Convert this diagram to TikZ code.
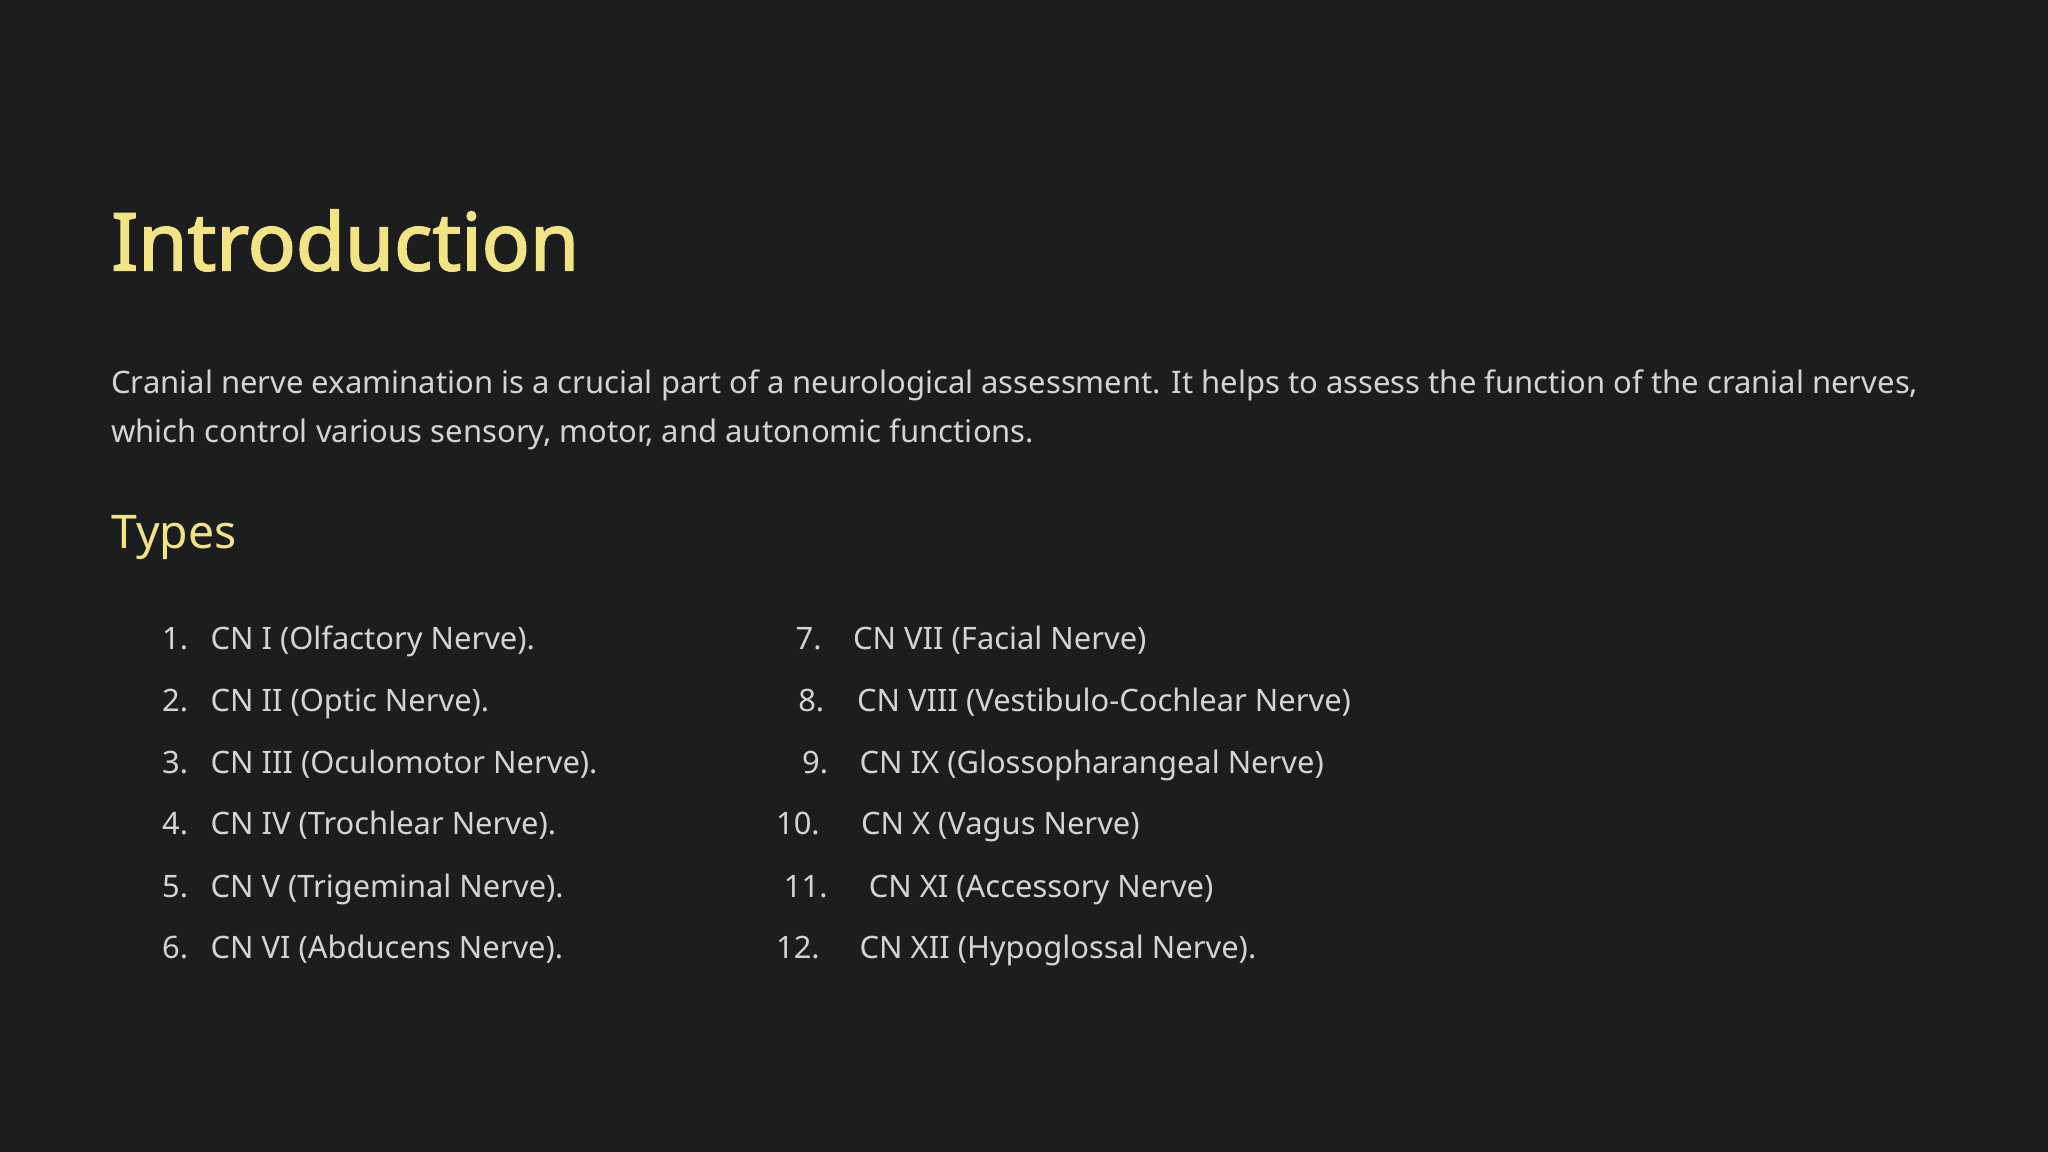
\documentclass[tikz,border=0pt]{standalone}
\usepackage{fontspec}
\setmainfont{Noto Sans}
\newfontfamily\ttlfont{Noto Sans}[FakeBold=2.2]
\definecolor{bg}{HTML}{1C1D1F}
\definecolor{ttl}{HTML}{F2E485}
\definecolor{txt}{HTML}{D4D4D4}
\begin{document}
\begin{tikzpicture}[x=1pt,y=-1pt,
  body/.style={anchor=base west,inner sep=0pt,text=txt,font=\fontsize{23.75}{38}\selectfont},
  item/.style={anchor=base west,inner sep=0pt,text=txt,font=\fontsize{23.65}{30}\selectfont}]
\fill[bg] (0,0) rectangle (1568,882);
\useasboundingbox (0,0) rectangle (1568,882);
\node[anchor=base west,inner sep=0pt,text=ttl,font=\fontsize{61}{70}\selectfont\ttlfont] (title) at (85,207) {Introduction};
\node[body] (p1) at (85,301) {Cranial nerve examination is a crucial part of a neurological assessment. It helps to assess the function of the cranial nerves,};
\node[body] (p2) at (85,339) {which control various sensory, motor, and autonomic functions.};
\node[anchor=base west,inner sep=0pt,text=ttl,font=\fontsize{35.5}{40}\selectfont] (types) at (85,420) {Types};
\foreach \n/\t/\y in {1/CN I (Olfactory Nerve)./497, 2/CN II (Optic Nerve)./545, 3/CN III (Oculomotor Nerve)./592, 4/CN IV (Trochlear Nerve)./639, 5/CN V (Trigeminal Nerve)./687, 6/CN VI (Abducens Nerve)./734}{
  \node[item] (n\n) at (124,\y) {\n.};
  \node[item] (t\n) at (161,\y) {\t};
}
\foreach \n/\nx/\t/\tx/\y in {7/609/CN VII (Facial Nerve)/653/497, 8/611/CN VIII (Vestibulo-Cochlear Nerve)/656/545, 9/614/CN IX (Glossopharangeal Nerve)/658/592, 10/594/CN X (Vagus Nerve)/659/639, 11/600/CN XI (Accessory Nerve)/665/687, 12/594/CN XII (Hypoglossal Nerve)./658/734}{
  \node[item] (n\n) at (\nx,\y) {\n.};
  \node[item] (t\n) at (\tx,\y) {\t};
}
\end{tikzpicture}
\end{document}
